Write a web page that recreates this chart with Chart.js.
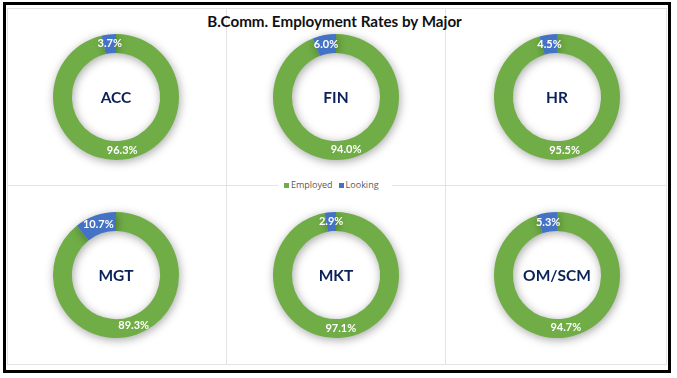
<!DOCTYPE html>
<html>
<head>
<meta charset="utf-8">
<script src="https://cdn.jsdelivr.net/npm/chart.js@4/dist/chart.umd.min.js"></script>
<style>
  body { margin: 0; background: #fff; font-family: "Open Sans", sans-serif; }
  #wrap { position: relative; width: 677px; height: 378px; overflow: hidden; }
  #frame { position: absolute; left: 3px; top: 2px; width: 662px; height: 365px; border: 3px solid #000; }
  #inner { position: absolute; left: 7px; top: 8px; width: 658px; height: 355px; border: 1px solid #e3e3e3; }
  .vline { position: absolute; top: 8px; width: 1px; height: 356px; background: #e3e3e3; }
  .hline { position: absolute; left: 7px; top: 185px; width: 659px; height: 1px; background: #e3e3e3; }
  #title { position: absolute; left: 0; width: 669px; top: 12px; text-align: center;
           font-family: Lato, sans-serif; font-weight: bold; font-size: 15.2px; color: #111; }
  #legend { position: absolute; left: 278px; top: 177px; width: 114px; height: 16px; background: #fff;
            font-size: 9px; color: #595959; line-height: 16px; white-space: nowrap; }
  #legend span.box { display: inline-block; width: 5px; height: 5px; margin: 0 2px 0 6px; vertical-align: 0px; }
  canvas { position: absolute; }
</style>
</head>
<body>
<div id="wrap">
  <div id="frame"></div>
  <div id="inner"></div>
  <div class="vline" style="left:226px"></div>
  <div class="vline" style="left:445px"></div>
  <div class="hline"></div>
  <div id="title">B.Comm. Employment Rates by Major</div>
  <div id="legend"></div>
</div>
<script>
var majors = ['ACC', 'FIN', 'HR', 'MGT', 'MKT', 'OM/SCM'];
var seriesNames = ['Employed', 'Looking'];
var employed = [96.3, 94.0, 95.5, 89.3, 97.1, 94.7];
var looking = [3.7, 6.0, 4.5, 10.7, 2.9, 5.3];
var colors = ['#70AD47', '#4472C4'];

// where each donut sits on the page
var centers = [[116, 97], [336, 97], [557, 97], [116, 275], [336, 275], [557, 275]];
var size = 160;

var legendHtml = '';
for (var s = 0; s < seriesNames.length; s++) {
    legendHtml += '<span class="box" style="background:' + colors[s] + '"></span>' + seriesNames[s];
}
document.getElementById('legend').innerHTML = legendHtml;

var shadowPlugin = {
    id: 'shadow',
    beforeDatasetDraw: function (chart) {
        var ctx = chart.ctx;
        ctx.save();
        ctx.shadowColor = 'rgba(0,0,0,0.35)';
        ctx.shadowBlur = 10;
        ctx.shadowOffsetX = 1;
        ctx.shadowOffsetY = 2;
    },
    afterDatasetDraw: function (chart) {
        chart.ctx.restore();
    }
};

var labelPlugin = {
    id: 'labels',
    afterDatasetsDraw: function (chart) {
        var ctx = chart.ctx;
        var meta = chart.getDatasetMeta(0);
        var data = chart.data.datasets[0].data;
        ctx.save();
        ctx.fillStyle = '#fff';
        ctx.font = 'bold 11px Lato';
        ctx.textAlign = 'center';
        ctx.textBaseline = 'middle';
        meta.data.forEach(function (arc, i) {
            var p = arc.tooltipPosition();
            ctx.fillText(data[i].toFixed(1) + '%', p.x, p.y);
        });
        var first = meta.data[0];
        ctx.fillStyle = '#0B2259';
        ctx.font = 'bold 15.5px Lato';
        ctx.fillText(chart.options.plugins.centerText, first.x, first.y + 1);
        ctx.restore();
    }
};

var wrap = document.getElementById('wrap');
for (var i = 0; i < majors.length; i++) {
    var cv = document.createElement('canvas');
    cv.width = size;
    cv.height = size;
    cv.style.left = (centers[i][0] - size / 2) + 'px';
    cv.style.top = (centers[i][1] - size / 2) + 'px';
    wrap.appendChild(cv);
    new Chart(cv.getContext('2d'), {
        type: 'doughnut',
        data: {
            labels: seriesNames,
            datasets: [{
                data: [employed[i], looking[i]],
                backgroundColor: colors,
                borderWidth: 0
            }]
        },
        options: {
            responsive: false,
            animation: false,
            cutout: '70%',
            layout: { padding: 17 },
            plugins: {
                legend: { display: false },
                tooltip: { enabled: false },
                centerText: majors[i]
            }
        },
        plugins: [shadowPlugin, labelPlugin]
    });
}
</script>
</body>
</html>
